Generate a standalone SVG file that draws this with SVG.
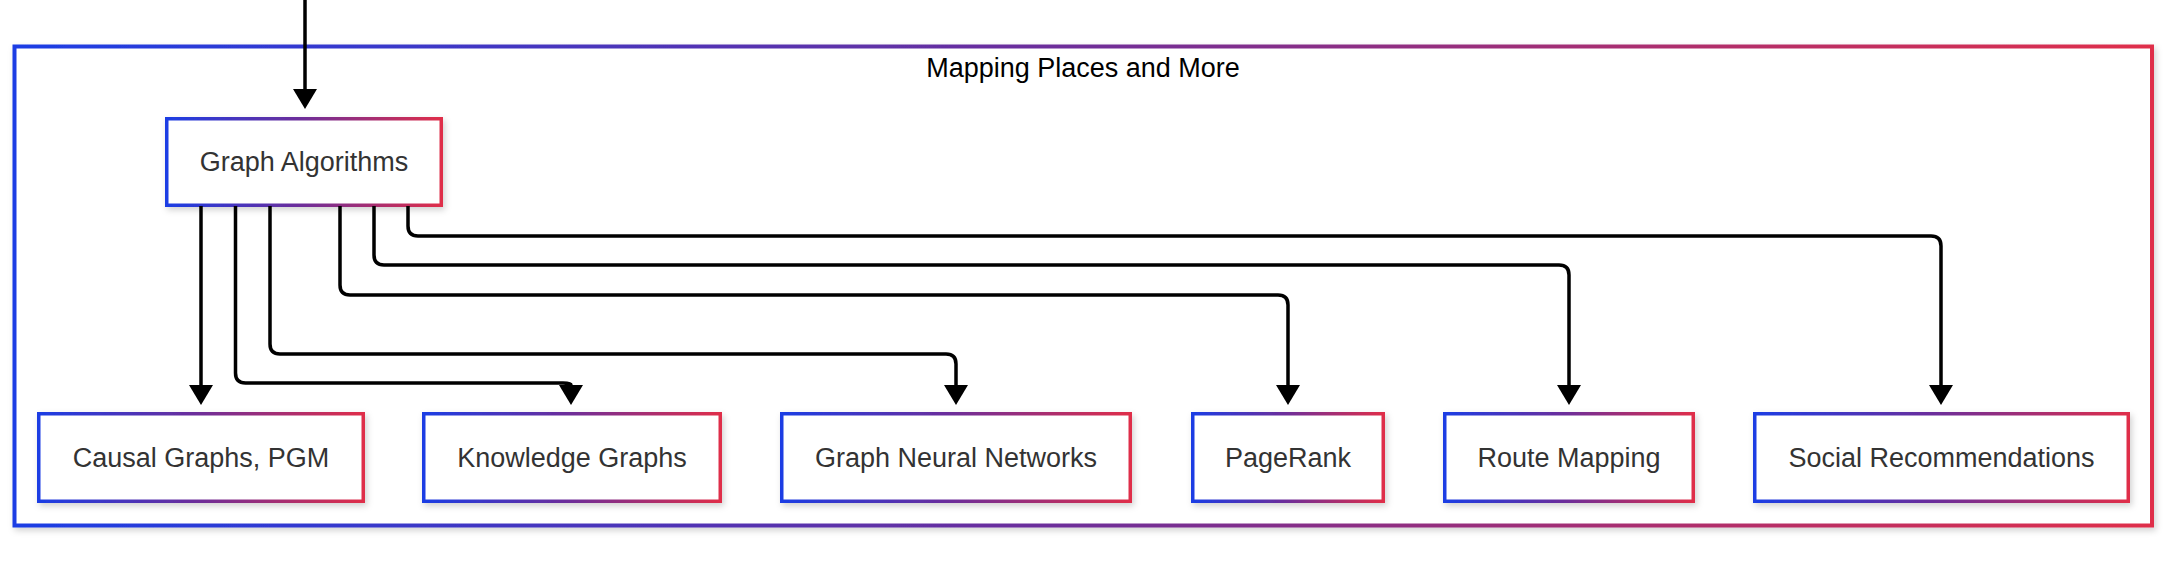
<svg xmlns="http://www.w3.org/2000/svg" width="2182" height="581" viewBox="0 0 2182 581">
  <defs>
    <linearGradient id="grad" x1="0" y1="0" x2="1" y2="0">
      <stop offset="0" stop-color="#1c3de4"/>
      <stop offset="0.5" stop-color="#6f2d98"/>
      <stop offset="1" stop-color="#df2f4a"/>
    </linearGradient>
    <filter id="shadow" x="-10%" y="-20%" width="120%" height="150%">
      <feDropShadow dx="2" dy="3" stdDeviation="3" flood-color="#000" flood-opacity="0.18"/>
    </filter>
    <marker id="arrow" markerUnits="userSpaceOnUse" markerWidth="22" markerHeight="26" refX="0" refY="12.5" orient="auto" viewBox="0 0 22 26">
      <path d="M0,0.5 L20,12.5 L0,24.5 Z" fill="#000"/>
    </marker>
    <style>
      .box { fill: #fff; stroke: url(#grad); stroke-width: 3.5; filter: url(#shadow); }
      .outer { fill: #fff; stroke: url(#grad); stroke-width: 4; filter: url(#shadow); }
      .label { font-family: "Liberation Sans", Arial, sans-serif; font-size: 27px; fill: #333; text-anchor: middle; }
      .title { font-family: "Liberation Sans", Arial, sans-serif; font-size: 27px; fill: #000; text-anchor: middle; }
      .edge { fill: none; stroke: #000; stroke-width: 3.5; marker-end: url(#arrow); }
    </style>
  </defs>

  <g id="cluster-mapping">
    <rect class="outer" x="14.5" y="46.5" width="2137.5" height="479"/>
    <text class="title" x="1083" y="77">Mapping Places and More</text>
  </g>

  <g id="node-graph-algorithms">
    <rect class="box" x="166.75" y="118.75" width="274.5" height="86.5"/>
    <text class="label" x="304" y="170.5">Graph Algorithms</text>
  </g>
  <g id="node-causal">
    <rect class="box" x="38.75" y="413.75" width="324.5" height="87.5"/>
    <text class="label" x="201" y="466.5">Causal Graphs, PGM</text>
  </g>
  <g id="node-knowledge">
    <rect class="box" x="423.75" y="413.75" width="296.5" height="87.5"/>
    <text class="label" x="572" y="466.5">Knowledge Graphs</text>
  </g>
  <g id="node-gnn">
    <rect class="box" x="781.75" y="413.75" width="348.5" height="87.5"/>
    <text class="label" x="956" y="466.5">Graph Neural Networks</text>
  </g>
  <g id="node-pagerank">
    <rect class="box" x="1192.75" y="413.75" width="190.5" height="87.5"/>
    <text class="label" x="1288" y="466.5">PageRank</text>
  </g>
  <g id="node-route">
    <rect class="box" x="1444.75" y="413.75" width="248.5" height="87.5"/>
    <text class="label" x="1569" y="466.5">Route Mapping</text>
  </g>
  <g id="node-social">
    <rect class="box" x="1754.75" y="413.75" width="373.5" height="87.5"/>
    <text class="label" x="1941.5" y="466.5">Social Recommendations</text>
  </g>

  <g id="connectors">
    <path class="edge" d="M305,0 V89"/>
    <path class="edge" d="M201,206 V385"/>
    <path class="edge" d="M235.5,206 V373 Q235.5,383 245.5,383 H563 Q571,383 571,385"/>
    <path class="edge" d="M270,206 V344 Q270,354 280,354 H946 Q956,354 956,364 V385"/>
    <path class="edge" d="M340,206 V285 Q340,295 350,295 H1278 Q1288,295 1288,305 V385"/>
    <path class="edge" d="M374,206 V255 Q374,265 384,265 H1559 Q1569,265 1569,275 V385"/>
    <path class="edge" d="M408,206 V226 Q408,236 418,236 H1931 Q1941,236 1941,246 V385"/>
  </g>
</svg>
